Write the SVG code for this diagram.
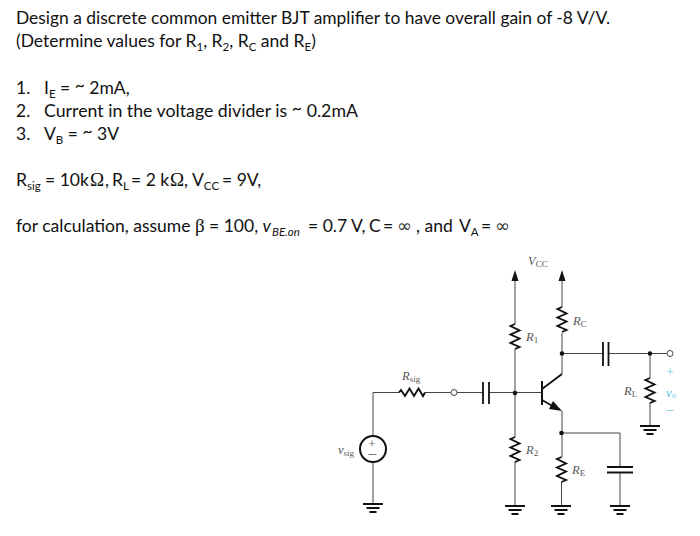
<svg xmlns="http://www.w3.org/2000/svg" width="700" height="536" viewBox="0 0 700 536">
<style>
.t{font-family:"Lato","Open Sans",sans-serif;font-size:17.5px;fill:#111}
.s{font-size:11.5px}
.g{font-family:"Liberation Serif",serif;font-size:19px}
.i{font-family:"DejaVu Sans",sans-serif;font-size:18px;fill:#333}
.c{font-family:"Liberation Serif",serif;font-style:italic;font-size:12.5px;fill:#555}
.c2{font-size:9px;font-style:normal}
.w{fill:none;stroke:#444;stroke-width:1}
.r{fill:none;stroke:#111;stroke-width:1.9;stroke-linejoin:miter}
.p{fill:none;stroke:#111;stroke-width:1.8}
.d{fill:#111}
.o{fill:#fff;stroke:#444;stroke-width:1}
.b{font-family:"Liberation Serif",serif;font-size:13px;fill:#5bbfe0}
.a{fill:#111}
</style>
<defs>
<g id="gnd"><path d="M-10 0H10M-6.500 4H6.500M-3.500 8H3.500" class="p"/></g>
<path id="res" d="M0 0L-4.500 2L4.500 6.500L-4.500 10.500L4.500 14.500L-4.500 19L4.500 23L0 25" class="r"/>
<path id="arrow" d="M0 0L3.500 11H-3.500Z" class="a"/>
</defs>

<g id="problem-text">
<text class="t" x="16" y="24" textLength="594" lengthAdjust="spacingAndGlyphs">Design a discrete common emitter BJT amplifier to have overall gain of -8 V/V.</text>
<text class="t" x="16" y="47">(Determine values for R<tspan class="s" dy="4">1</tspan><tspan dy="-4">, R</tspan><tspan class="s" dy="4">2</tspan><tspan dy="-4">, R</tspan><tspan class="s" dy="4">C</tspan><tspan dy="-4"> and R</tspan><tspan class="s" dy="4">E</tspan><tspan dy="-4">)</tspan></text>
<text class="t" x="16" y="94">1.</text>
<text class="t" x="44" y="94">I<tspan class="s" dy="4">E</tspan><tspan dy="-4"> = </tspan><tspan dy="-3">~</tspan><tspan dy="3"> 2mA,</tspan></text>
<text class="t" x="16" y="117">2.</text>
<text class="t" x="44" y="117" textLength="314" lengthAdjust="spacingAndGlyphs">Current in the voltage divider is <tspan dy="-3">~</tspan><tspan dy="3"> 0.2mA</tspan></text>
<text class="t" x="16" y="140">3.</text>
<text class="t" x="44" y="140">V<tspan class="s" dy="4">B</tspan><tspan dy="-4"> = </tspan><tspan dy="-3">~</tspan><tspan dy="3"> 3V</tspan></text>
<text class="t" x="16" y="186">R<tspan class="s" dy="4">sig</tspan><tspan x="45" dy="-4">= 10k</tspan><tspan class="g" x="90">Ω</tspan><tspan x="105">,</tspan><tspan x="112">R</tspan><tspan class="s" dy="4" font-size="10.500">L</tspan><tspan x="131" dy="-4">= 2 k</tspan><tspan class="g" x="170">Ω</tspan><tspan x="184">,</tspan><tspan x="192">V</tspan><tspan class="s" dy="4" font-size="11">CC</tspan><tspan x="222" dy="-4">= 9V,</tspan></text>
<text class="t" x="16" y="232">for calculation, assume <tspan class="g">β</tspan> = 100, <tspan font-style="italic">v</tspan><tspan class="s" font-style="italic" dy="4" dx="1" font-size="12.5">BE.on</tspan><tspan x="308" dy="-4">= 0.7 V,</tspan><tspan x="369">C</tspan><tspan x="383">=</tspan><tspan class="i" x="397">∞</tspan><tspan x="416">, and</tspan><tspan x="459">V</tspan><tspan class="s" dy="4">A</tspan><tspan x="481" dy="-4">=</tspan><tspan class="i" x="495">∞</tspan></text>
</g>

<g id="connectors">
<path class="w" d="M515 281V324M515 349V437M515 462V506"/>
<path class="w" d="M562 281V307M562 333V374M562 411V457M561.500 482V506"/>
<path class="w" d="M562 353.500H603M608 353.500H667"/>
<path class="w" d="M650 353.500V378M650 403V426"/>
<path class="w" d="M562 433H620V467M620 472V506"/>
<path class="w" d="M373 436V392.500H399M425 392.500H451M457 392.500H483M489 392.500H542"/>
<path class="w" d="M373 462V504"/>
<path class="p" d="M542 389L562 374"/>
<path class="p" d="M542 400L556 408"/>
</g>

<g id="vcc">
<use href="#arrow" x="515" y="270"/>
<use href="#arrow" x="562" y="270"/>
<text class="c" x="528" y="265">V<tspan class="c2" dy="2" font-style="italic">CC</tspan></text>
</g>

<g id="r1"><use href="#res" x="515" y="324"/><text class="c" x="526" y="341">R<tspan class="c2" dy="2">1</tspan></text></g>
<g id="rc"><use href="#res" x="562" y="307"/><text class="c" x="573" y="325">R<tspan class="c2" dy="2" font-style="italic">C</tspan></text></g>
<g id="r2"><use href="#res" x="515" y="437"/><text class="c" x="526" y="454">R<tspan class="c2" dy="2">2</tspan></text></g>
<g id="re"><use href="#res" x="561.500" y="457"/><text class="c" x="572" y="474">R<tspan class="c2" dy="2" font-style="italic">E</tspan></text></g>
<g id="rl"><use href="#res" x="650" y="378"/><text class="c" x="624" y="395">R<tspan class="c2" dy="2" font-style="italic">L</tspan></text></g>
<g id="rsig"><path class="r" d="M399 392.500L401 390L405 396L409.500 388.500L414 396L418.500 388.500L423 396L425 392.500"/><text class="c" x="402" y="380">R<tspan class="c2" dy="2">sig</tspan></text></g>

<g id="c-in"><path class="p" d="M483 382V404M489 382V404"/></g>
<g id="c-out"><path class="p" d="M603 342V366M608.500 342V366"/></g>
<g id="c-e"><path class="p" d="M607 467H633M607 472.500H633"/></g>

<g id="bjt">
<path d="M542 381V405" stroke="#111" stroke-width="2" fill="none"/>
<path d="M562 411L553 401L549 409Z" fill="#111"/>
</g>

<g id="source">
<circle cx="373" cy="449" r="13" fill="#fff" stroke="#111" stroke-width="2"/>
<text x="372" y="448" text-anchor="middle" font-family="Liberation Serif, serif" font-size="12" fill="#555">+</text>
<path d="M368.500 454.500H376.500" stroke="#555" stroke-width="0.800"/>
<text class="c" x="338" y="454">v<tspan class="c2" dy="2">sig</tspan></text>
</g>

<g id="nodes">
<circle class="d" cx="515" cy="393" r="2.300"/>
<circle class="d" cx="562" cy="353.500" r="2.300"/>
<circle class="d" cx="650" cy="353.500" r="2.300"/>
<circle class="d" cx="561.500" cy="433" r="2.300"/>
<circle class="o" cx="454" cy="392.500" r="3"/>
<circle class="o" cx="670" cy="353.500" r="3"/>
</g>

<g id="grounds">
<use href="#gnd" x="373" y="504"/>
<use href="#gnd" x="515" y="506"/>
<use href="#gnd" x="561" y="506"/>
<use href="#gnd" x="620" y="506"/>
<use href="#gnd" x="650" y="426"/>
</g>

<g id="vo">
<text class="b" x="670" y="376" text-anchor="middle">+</text>
<text class="b" x="671" y="397" text-anchor="middle" font-style="italic">v<tspan font-size="8" dy="1">o</tspan></text>
<text class="b" x="670" y="413" text-anchor="middle">–</text>
</g>
</svg>
